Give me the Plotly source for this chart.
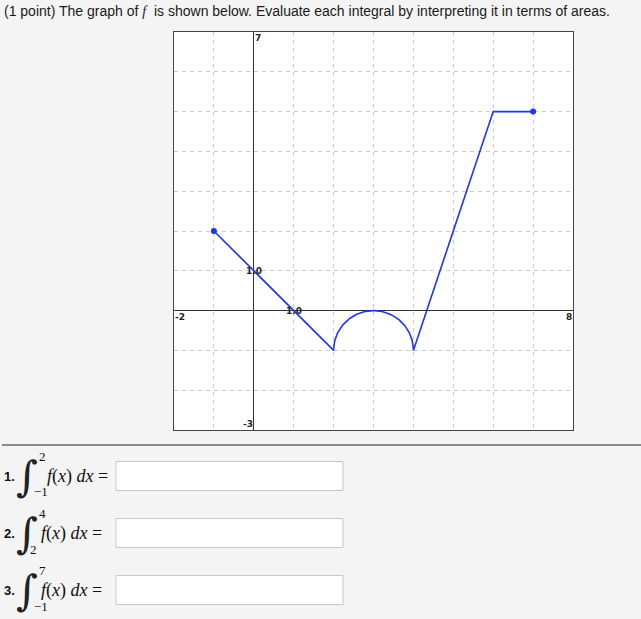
import numpy as np
import plotly.graph_objects as go

# piecewise-linear parts of f
seg1_x = [-1, 2]
seg1_y = [2, -1]
seg2_x = [4, 6, 7]
seg2_y = [-1, 5, 5]
# semicircle part: center and radius
arc_center = (3, -1)
arc_radius = 1
# closed endpoints
dot_x = [-1, 7]
dot_y = [2, 5]

x_range = [-2, 8]
y_range = [-3, 7]

# axis labels drawn on the graph (x, y, text, xanchor, yanchor)
axis_labels = [
    (-2, 0, "-2", "left", "top"),
    (8, 0, "8", "right", "top"),
    (1, 0, "1.0", "center", "middle"),
    (0, 1, "1.0", "center", "middle"),
    (0, 7, "7", "left", "top"),
    (0, -3, "-3", "right", "bottom"),
]

# integral questions: number, lower, upper
questions = ["1.", "2.", "3."]
lower_limits = ["\u22121", "2", "\u22121"]
upper_limits = ["2", "4", "7"]

W, H = 641, 619
L, R, T, B = 174, 573, 32, 430
BLUE = "#1f35f0"


def px(x):
    return (x - L) / (R - L)


def py(y):
    return (B - y) / (B - T)


fig = go.Figure()

# semicircle on top of the center
t = np.linspace(np.pi, 0, 121)
arc_x = arc_center[0] + arc_radius * np.cos(t)
arc_y = arc_center[1] + arc_radius * np.sin(t)

curve_x = seg1_x + list(arc_x) + seg2_x
curve_y = seg1_y + list(arc_y) + seg2_y
fig.add_trace(go.Scatter(x=curve_x, y=curve_y, mode="lines",
                         line=dict(color=BLUE, width=1.6), hoverinfo="skip"))
fig.add_trace(go.Scatter(x=dot_x, y=dot_y, mode="markers",
                         marker=dict(color=BLUE, size=6), hoverinfo="skip"))

for x, y, txt, xa, ya in axis_labels:
    fig.add_annotation(x=x, y=y, text="<b>" + txt + "</b>", showarrow=False,
                       xanchor=xa, yanchor=ya, borderpad=0,
                       font=dict(family="DejaVu Sans", size=9, color="#222"))

# title text
fig.add_annotation(x=px(2), y=py(11), xref="paper", yref="paper",
                   text="(1 point) The graph of "
                        "<span style=\"font-family:'Liberation Serif'\"><i>f</i></span>"
                        "  is shown below. Evaluate each integral by interpreting it in terms of areas.",
                   showarrow=False, xanchor="left", yanchor="middle",
                   font=dict(family="Liberation Sans", size=14, color="#1a1a1a"))

# separator line
fig.add_shape(type="line", xref="paper", yref="paper",
              x0=px(2), x1=px(641), y0=py(445), y1=py(445),
              line=dict(color="#222", width=1.2))

serif = "Liberation Serif"
row_y = [476, 533, 590]
expr_x = [45, 39, 39]
low_x = [32, 28, 32]
for i, q in enumerate(questions):
    yc = row_y[i]
    fig.add_annotation(x=px(2), y=py(yc), xref="paper", yref="paper",
                       text="<b>" + q + "</b>", showarrow=False,
                       xanchor="left", yanchor="middle",
                       font=dict(family="Liberation Sans", size=13, color="#111"))
    fig.add_annotation(x=px(14), y=py(yc), xref="paper", yref="paper",
                       text="<i>\u222b</i>", showarrow=False,
                       xanchor="left", yanchor="middle",
                       font=dict(family="DejaVu Serif", size=42, color="#222"))
    fig.add_annotation(x=px(37), y=py(yc - 20), xref="paper", yref="paper",
                       text=upper_limits[i], showarrow=False,
                       xanchor="left", yanchor="middle",
                       font=dict(family=serif, size=13, color="#111"))
    fig.add_annotation(x=px(low_x[i]), y=py(yc + 16), xref="paper", yref="paper",
                       text=lower_limits[i], showarrow=False,
                       xanchor="left", yanchor="middle",
                       font=dict(family=serif, size=13, color="#111"))
    fig.add_annotation(x=px(expr_x[i]), y=py(yc), xref="paper", yref="paper",
                       text="<i>f</i>(<i>x</i>) <i>dx</i> =", showarrow=False,
                       xanchor="left", yanchor="middle",
                       font=dict(family=serif, size=18, color="#111"))
    fig.add_shape(type="rect", xref="paper", yref="paper",
                  x0=px(116), x1=px(343), y0=py(yc - 14.5), y1=py(yc + 14.5),
                  line=dict(color="#c8c8c8", width=1), fillcolor="white")

axis_style = dict(dtick=1, showgrid=True, gridcolor="#cccccc",
                  griddash="4px,4px", gridwidth=1, zeroline=True,
                  zerolinecolor="#333", zerolinewidth=1, showline=True,
                  linecolor="#444", linewidth=1.2, mirror=True,
                  showticklabels=False, ticks="", fixedrange=True)
fig.update_xaxes(range=x_range, **axis_style)
fig.update_yaxes(range=y_range, **axis_style)

fig.update_layout(width=W, height=H, autosize=False,
                  margin=dict(l=L, r=W - R, t=T, b=H - B, pad=0),
                  paper_bgcolor="#f4f4f4", plot_bgcolor="white",
                  showlegend=False)

fig.write_html("out.html", config={"displayModeBar": False},
               post_script="document.body.style.margin='0';"
                           "document.body.style.background='#f4f4f4';")
